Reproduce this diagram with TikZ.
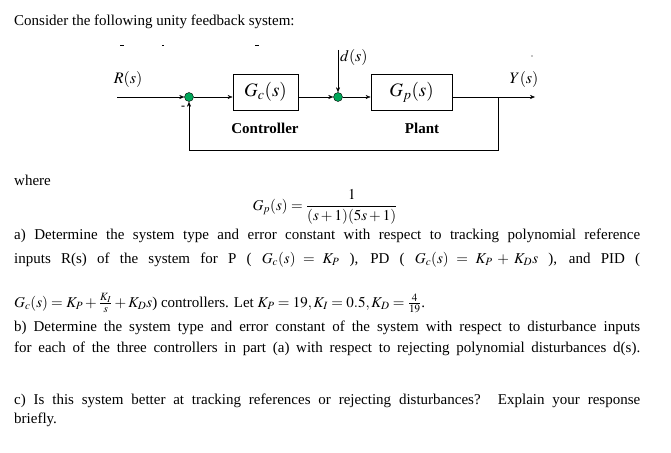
\documentclass[tikz,border=0pt]{standalone}
\usepackage{amsmath}
\usepackage{mathptmx}
\usepackage[no-math]{fontspec}
\setmainfont{Liberation Serif}
\usetikzlibrary{arrows.meta}
\begin{document}
\begin{tikzpicture}[x=1pt,y=-1pt,
  blk/.style={draw,thick,minimum height=36pt,inner sep=0pt},
  sumj/.style={circle,draw,fill=teal!70!green,minimum size=9pt,inner sep=0pt},
  sig/.style={-{Stealth[length=5pt,width=4pt]}},
  txt/.style={anchor=base west,inner sep=0pt,font=\fontsize{15}{16}\selectfont},
  lab/.style={inner sep=0pt,font=\fontsize{16}{16}\selectfont}]
\useasboundingbox (0,0) rectangle (671,452);
\node[txt] at (14,26) {Consider the following unity feedback system:};
% stray marks
\draw[thin] (120,45)--(124,45) (162,45)--(164,45) (255,45)--(259,45);
\fill (532,56) circle (0.6);
% diagram
\coordinate (rin) at (117,97);
\node[sumj] (s1) at (189,97) {};
\node[blk,minimum width=65pt] (gc) at (265.5,92) {\fontsize{19}{19}\selectfont$G_c(s)$};
\node[sumj] (s2) at (338,97) {};
\node[blk,minimum width=81pt] (gp) at (411.5,92) {\fontsize{19}{19}\selectfont$G_p(s)$};
\coordinate (dtop) at (338,50);
\coordinate (yout) at (535,97);
\coordinate (tap) at (498,97);
\coordinate (fb) at (498,150);
\draw[sig] (rin) -- (s1);
\draw[sig] (s1) -- (gc.west|-s1);
\draw[sig] (gc.east|-s2) -- (s2);
\draw[sig] (s2) -- (gp.west|-s2);
\draw[sig] (gp.east|-tap) -- (yout);
\draw[sig] (dtop) -- (s2);
\draw[sig] (tap) -- (fb) -| (s1);
\node[lab] (rl) at (128,79) {$R(s)$};
\node[lab] (yl) at (524,79) {$Y(s)$};
\node[lab,anchor=west] (dl) at (340,57) {$d(s)$};
\node[inner sep=0pt,font=\bfseries\fontsize{12}{12}\selectfont] at (183,108) {-};
\node[inner sep=0pt,font=\bfseries\fontsize{15}{16}\selectfont] (cl) at (265,128) {Controller};
\node[inner sep=0pt,font=\bfseries\fontsize{15}{16}\selectfont] (pl) at (422,128) {Plant};
\node[txt] at (14,185) {where};
\node[inner sep=0pt,font=\fontsize{15}{16}\selectfont] at (325,207) {$G_p(s)=\dfrac{1}{(s+1)(5s+1)}$};
\begin{scope}[every node/.style={txt}]
\node at (14,239) {\makebox[626pt][s]{a) Determine the system type and error constant with respect to tracking polynomial reference}};
\node at (14,263) {\makebox[626pt][s]{inputs R(s) of the system for P ( $G_c(s)=K_P$ ), PD ( $G_c(s)=K_P+K_Ds$ ), and PID (}};
\node at (14,307) {$G_c(s)=K_P+\frac{K_I}{s}+K_Ds$) controllers. Let $K_P=19,K_I=0.5,K_D=\frac{4}{19}$.};
\node at (14,331) {\makebox[626pt][s]{b) Determine the system type and error constant of the system with respect to disturbance inputs}};
\node at (14,352) {\makebox[626pt][s]{for each of the three controllers in part (a) with respect to rejecting polynomial disturbances d(s).}};
\node at (14,404) {\makebox[626pt][s]{c) Is this system better at tracking references or rejecting disturbances? Explain your response}};
\node at (14,423) {briefly.};
\end{scope}
\end{tikzpicture}
\end{document}
